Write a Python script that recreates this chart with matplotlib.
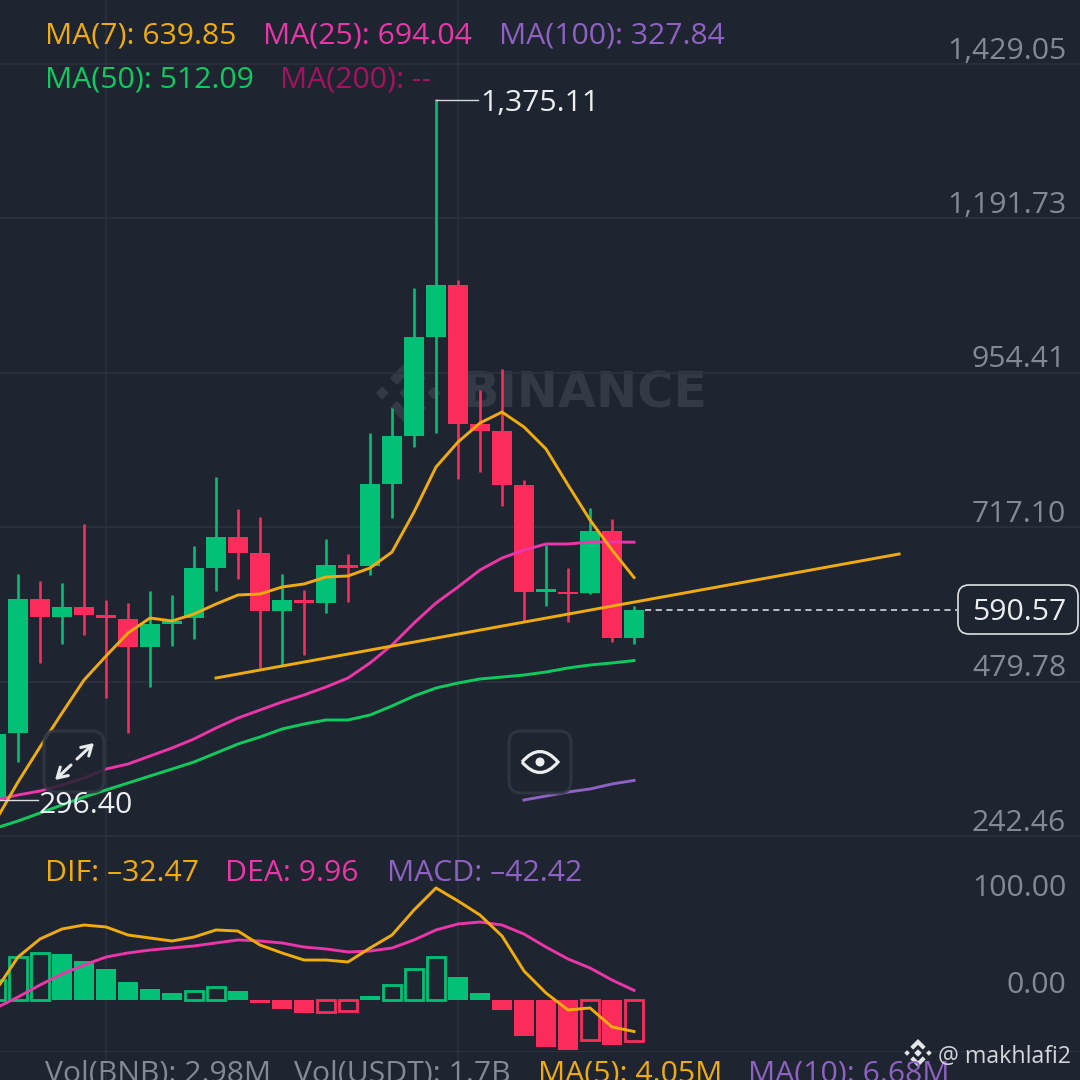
import matplotlib
matplotlib.use("Agg")
import matplotlib.pyplot as plt
from matplotlib.patches import FancyBboxPatch, Polygon, PathPatch, Circle
from matplotlib.path import Path

plt.rcParams['font.family'] = ['Open Sans', 'DejaVu Sans']

# candle data, one per day
opens = [300.9, 400.8, 606.7, 579.1, 594.4, 582.1, 576.0, 532.9, 568.3, 577.5,
         654.4, 702.0, 677.4, 588.3, 605.2, 600.6, 659.0, 657.4, 783.5, 857.3,
         1009.4, 1089.3, 875.7, 864.9, 782.0, 617.5, 617.5, 615.9, 711.2, 546.8]
closes = [399.2, 606.7, 579.1, 594.4, 582.1, 577.5, 532.9, 568.3, 572.9, 654.4,
          702.0, 677.4, 588.3, 605.2, 600.6, 659.0, 654.4, 783.5, 857.3, 1009.4,
          1089.3, 875.7, 864.9, 782.0, 617.5, 622.1, 614.4, 711.2, 546.8, 590.57]
highs = [399.2, 645.2, 634.4, 631.3, 722.0, 605.2, 600.6, 619.0, 612.9, 688.2,
         794.2, 745.1, 732.8, 645.2, 620.6, 699.0, 675.9, 861.9, 900.3, 1084.7,
         1375.11, 1097.0, 927.9, 960.2, 789.6, 689.7, 654.4, 746.6, 729.7, 596.0]
lows = [296.40, 356.2, 508.4, 537.6, 551.4, 454.6, 400.8, 471.5, 534.5, 545.2,
        619.0, 637.5, 500.7, 505.3, 520.7, 585.2, 602.1, 643.6, 731.2, 840.4,
        861.9, 791.2, 801.9, 749.7, 571.4, 596.0, 571.4, 614.4, 540.6, 537.6]

ma7 = [267.0, 325.5, 379.3, 431.5, 482.2, 519.1, 554.5, 577.5, 572.9, 583.7,
       599.0, 612.9, 614.4, 625.2, 629.8, 640.5, 642.1, 654.4, 678.9, 740.4,
       809.6, 848.0, 877.2, 894.1, 871.1, 837.3, 782.0, 728.2, 682.0, 639.85]
ma25 = [297.8, 305.5, 311.6, 320.8, 331.6, 345.4, 353.1, 365.4, 377.7, 391.6,
        408.4, 423.8, 436.1, 448.4, 459.2, 471.5, 485.3, 508.4, 536.0, 569.8,
        600.6, 625.2, 651.3, 669.7, 682.0, 691.3, 691.3, 694.3, 694.3, 694.04]
ma50 = [254.8, 265.5, 277.8, 290.1, 302.4, 313.2, 323.9, 334.7, 345.4, 356.2,
        370.0, 383.9, 394.6, 406.9, 414.6, 420.8, 420.8, 428.4, 442.3, 457.6,
        469.9, 477.6, 483.8, 486.8, 489.9, 494.5, 500.7, 505.3, 508.4, 512.09]
ma100_days = [24, 25, 26, 27, 28, 29]
ma100 = [297.8, 303.9, 310.1, 314.7, 322.4, 327.84]
trend_days = [10, 41.05]
trend_vals = [485.3, 675.9]

dif = [10.3, 44.3, 62.9, 73.2, 77.3, 75.3, 67.0, 63.9, 60.8, 64.9,
       72.2, 71.1, 56.7, 48.5, 41.2, 41.2, 39.2, 53.6, 67.0, 92.8,
       115.5, 102.1, 87.6, 66.0, 29.9, 7.2, -10.3, -8.2, -27.8, -32.47]
dea = [-8.2, 3.1, 15.5, 26.8, 36.1, 44.3, 48.5, 51.5, 53.6, 55.7,
       58.8, 61.9, 60.8, 58.8, 54.6, 52.6, 49.5, 50.5, 53.6, 61.9,
       72.2, 78.4, 80.4, 77.3, 68.0, 54.6, 42.3, 33.0, 20.6, 9.96]
macd = [20.6, 44.0, 48.8, 47.4, 40.2, 31.6, 18.2, 11.7, 6.9, 9.6,
        13.7, 8.9, -3.4, -9.6, -13.7, -12.4, -11.3, 4.1, 15.5, 32.3,
        44.3, 23.4, 7.6, -10.7, -37.1, -48.8, -51.9, -41.6, -46.7, -42.42]
hollow = [1, 1, 1, 0, 0, 0, 0, 0, 0, 1,
          1, 0, 0, 0, 0, 1, 1, 0, 1, 1,
          1, 0, 0, 0, 0, 0, 0, 1, 0, 1]

price_ticks = [242.46, 479.78, 717.10, 954.41, 1191.73, 1429.05]
price_labels = ['242.46', '479.78', '717.10', '954.41', '1,191.73', '1,429.05']
macd_ticks = [0, 100]
macd_labels = ['0.00', '100.00']
grid_days = [5, 21]
last_price = 590.57

BG = '#1e2530'
GRID = '#2b323d'
GREEN = '#02c076'
RED = '#fb2c5b'
ORANGE = '#f0ac0c'
PINK = '#ec35a8'
PURPLE = '#8e62c2'
LIME = '#0ecb5f'
GREY = '#838a96'
MARK = '#333a46'
FS = 21.7
LW = 2.1

days = list(range(len(opens)))
fig = plt.figure(figsize=(10.8, 10.8), dpi=100, facecolor=BG)


def px_axes(top, bottom):
    return fig.add_axes([0, 1 - bottom / 1080, 1, (bottom - top) / 1080], facecolor='none', zorder=1)


def diamond(ax, x, y, r, color, zorder=2):
    ax.add_patch(Polygon([(x, y - r), (x + r, y), (x, y + r), (x - r, y)], closed=True,
                         fc=color, ec='none', zorder=zorder))


def binance_logo(ax, x, y, s, color, zorder=2):
    # small squares at the corners and the chevrons between them
    diamond(ax, x, y, 0.27 * s, color, zorder)
    diamond(ax, x - 0.78 * s, y, 0.2 * s, color, zorder)
    diamond(ax, x + 0.78 * s, y, 0.2 * s, color, zorder)
    for sy in (-1, 1):
        ax.add_patch(Polygon([(x, y + sy * s), (x + 0.55 * s, y + sy * 0.45 * s),
                              (x + 0.34 * s, y + sy * 0.24 * s), (x, y + sy * 0.58 * s),
                              (x - 0.34 * s, y + sy * 0.24 * s), (x - 0.55 * s, y + sy * 0.45 * s)],
                             closed=True, fc=color, ec='none', zorder=zorder))


# watermark sits under the candles, in pixel coordinates
under = fig.add_axes([0, 0, 1, 1], facecolor='none', zorder=0.5)
under.set_xlim(0, 1080)
under.set_ylim(1080, 0)
under.axis('off')
binance_logo(under, 408, 393, 33, MARK)
under.text(462, 393, 'BINANCE', color=MARK, fontsize=35.5, fontweight='bold', va='center',
           family='DejaVu Sans')

# price panel
ax = px_axes(0, 836)
ax.set_xlim(4 / 22, 1084 / 22)
ax.set_ylim(242.46, 242.46 + 836 * 1.537)
ax.set_yticks(price_ticks)
ax.set_xticks(grid_days)
ax.tick_params(length=0, labelleft=False, labelbottom=False)
ax.grid(True, color=GRID, lw=1.2)
ax.set_axisbelow(True)
for s in ax.spines.values():
    s.set_visible(False)

for d in days:
    up = closes[d] >= opens[d]
    c = GREEN if up else RED
    ax.vlines(d, lows[d], highs[d], color=c, lw=1.9, zorder=3)
    ax.bar(d, abs(closes[d] - opens[d]), bottom=min(opens[d], closes[d]), width=0.87,
           color=c, zorder=3)

ax.plot(days, ma50, color=LIME, lw=LW, zorder=4)
ax.plot(days, ma25, color=PINK, lw=LW, zorder=4)
ax.plot(days, ma7, color=ORANGE, lw=LW, zorder=5)
ax.plot(ma100_days, ma100, color=PURPLE, lw=LW, zorder=4)
ax.plot(trend_days, trend_vals, color=ORANGE, lw=LW, zorder=5)

# last price line
ax.plot([29.5, 43.7], [last_price, last_price], color='#e6e8ea', lw=1.1, dashes=(4, 3), zorder=4)

for t, lab in zip(price_ticks, price_labels):
    ax.annotate(lab, xy=(1, t), xycoords=('axes fraction', 'data'), xytext=(-10, 11.8),
                textcoords='offset points', ha='right', va='center_baseline', color=GREY, fontsize=FS,
                annotation_clip=False)

# macd panel
ax2 = px_axes(836, 1051)
ax2.set_xlim(4 / 22, 1084 / 22)
ax2.set_ylim(-51 / 0.97, 164 / 0.97)
ax2.set_xticks(grid_days)
ax2.set_yticks([])
ax2.tick_params(length=0, labelbottom=False)
ax2.grid(True, axis='x', color=GRID, lw=1.2)
ax2.set_axisbelow(True)
for s in ax2.spines.values():
    s.set_visible(False)
ax2.spines['top'].set_visible(True)
ax2.spines['bottom'].set_visible(True)
ax2.spines['top'].set_color(GRID)
ax2.spines['bottom'].set_color(GRID)

for d in days:
    c = GREEN if macd[d] >= 0 else RED
    if hollow[d]:
        ax2.bar(d, macd[d], width=0.84, facecolor='none', edgecolor=c, lw=2, zorder=3)
    else:
        ax2.bar(d, macd[d], width=0.87, color=c, zorder=3)
ax2.plot(days, dea, color=PINK, lw=LW, zorder=4)
ax2.plot(days, dif, color=ORANGE, lw=LW, zorder=5)

for t, lab in zip(macd_ticks, macd_labels):
    ax2.annotate(lab, xy=(1, t), xycoords=('axes fraction', 'data'), xytext=(-10, 13),
                 textcoords='offset points', ha='right', va='center_baseline', color=GREY, fontsize=FS,
                 annotation_clip=False)

# volume strip, only the header shows
ax3 = px_axes(1051, 1080)
ax3.set_xlim(4 / 22, 1084 / 22)
ax3.set_xticks(grid_days)
ax3.set_yticks([])
ax3.tick_params(length=0, labelbottom=False)
ax3.grid(True, axis='x', color=GRID, lw=1.2)
ax3.set_axisbelow(True)
for s in ax3.spines.values():
    s.set_visible(False)

# overlay with the labels and buttons
top = fig.add_axes([0, 0, 1, 1], facecolor='none', zorder=5)
top.set_xlim(0, 1080)
top.set_ylim(1080, 0)
top.axis('off')

header = [('MA(7): 639.85', 45, 32, ORANGE), ('MA(25): 694.04', 263, 32, PINK),
          ('MA(100): 327.84', 499, 32, PURPLE), ('MA(50): 512.09', 45, 76, LIME),
          ('MA(200): --', 280, 76, '#a3135f'),
          ('DIF: \u201332.47', 45, 870, ORANGE), ('DEA: 9.96', 225, 870, PINK),
          ('MACD: \u201342.42', 387, 870, PURPLE)]
for txt, x, y, c in header:
    top.text(x, y, txt, color=c, fontsize=FS, va='center_baseline', ha='left')

vol_header = [('Vol(BNB): 2.98M', 45, GREY), ('Vol(USDT): 1.7B', 294, GREY),
              ('MA(5): 4.05M', 538, ORANGE), ('MA(10): 6.68M', 748, PURPLE)]
for txt, x, c in vol_header:
    top.text(x, 1081, txt, color=c, fontsize=FS, va='baseline', ha='left', clip_on=True)

# high and low markers
top.plot([436, 478], [100, 100], color='#d8dade', lw=1)
top.text(480, 100, '1,375.11', color='#eceef0', fontsize=FS, va='center_baseline')
top.plot([0, 38], [800, 800], color='#d8dade', lw=1)
top.text(38, 802, '296.40', color='#eceef0', fontsize=FS, va='center_baseline')

# last price tag
top.add_patch(FancyBboxPatch((966, 593), 104, 33, boxstyle='round,pad=8,rounding_size=11',
                             fc=BG, ec='#dfe1e4', lw=1.2))
top.text(1066, 609.5, '590.57', color='#eceef0', fontsize=FS, va='center_baseline', ha='right')

# expand button
top.add_patch(FancyBboxPatch((52, 739), 44, 45, boxstyle='round,pad=8,rounding_size=12',
                             fc=BG, ec='#323844', lw=2.2, alpha=0.85))
arrow = dict(arrowstyle='->,head_length=0.7,head_width=0.42', color='#e8eaed', lw=2.2,
             shrinkA=0, shrinkB=0)
top.annotate('', xy=(94, 743), xytext=(77, 759), arrowprops=arrow)
top.annotate('', xy=(55, 780), xytext=(71, 765), arrowprops=arrow)

# eye button
top.add_patch(FancyBboxPatch((517, 739), 46, 46, boxstyle='round,pad=8,rounding_size=12',
                             fc=BG, ec='#323844', lw=2.2, alpha=0.85))
eye = Path([(522, 762), (540, 741), (558, 762), (540, 783), (522, 762)],
           [Path.MOVETO, Path.CURVE3, Path.CURVE3, Path.CURVE3, Path.CURVE3])
top.add_patch(PathPatch(eye, fc='none', ec='#eceef0', lw=2.3))
top.add_patch(Circle((540, 762), 4.5, fc='#eceef0', ec='none'))

# repost credit
binance_logo(top, 918, 1053, 14, '#e3e5e8')
top.text(938, 1054, '@ makhlafi2', color='#d3d6da', fontsize=16.7, va='center_baseline')

fig.savefig('out.png', dpi=100, facecolor=BG)
